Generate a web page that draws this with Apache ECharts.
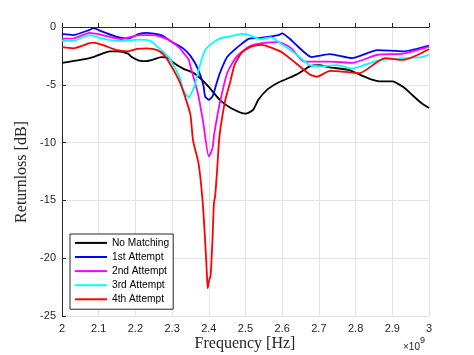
<!DOCTYPE html>
<html>
<head>
<meta charset="utf-8">
<script src="https://cdn.jsdelivr.net/npm/echarts@6/dist/echarts.min.js"></script>
<style>html,body{margin:0;padding:0;background:#fff}#c{width:474px;height:355px}</style>
</head>
<body>
<div id="c"></div>
<script>
// Frequency in GHz (axis shows x10^9 Hz), return loss in dB
const seriesNames = ['No Matching', '1st Attempt', '2nd Attempt', '3rd Attempt', '4th Attempt'];
const seriesColors = ['#000000', '#0000ff', '#ff00ff', '#00ffff', '#ff0000'];

const noMatching = [
  [2.00,-3.1],[2.05,-2.85],[2.085,-2.6],[2.11,-2.3],[2.13,-2.1],[2.15,-2.1],[2.18,-2.3],[2.19,-2.6],
  [2.21,-2.9],[2.23,-2.95],[2.25,-2.8],[2.27,-2.6],[2.29,-2.7],[2.30,-3.0],[2.33,-3.6],[2.36,-4.0],
  [2.395,-5.0],[2.43,-6.3],[2.46,-7.0],[2.50,-7.5],[2.52,-7.2],[2.535,-6.3],[2.56,-5.4],[2.59,-4.8],
  [2.64,-4.1],[2.675,-3.4],[2.70,-3.3],[2.73,-3.5],[2.78,-3.7],[2.81,-4.1],[2.84,-4.5],[2.87,-4.7],
  [2.90,-4.7],[2.93,-5.2],[2.955,-5.9],[2.98,-6.6],[3.00,-7.0]
];
const attempt1 = [
  [2.00,-0.6],[2.03,-0.7],[2.075,-0.25],[2.085,-0.1],[2.11,-0.4],[2.15,-0.85],[2.18,-1.0],[2.21,-0.6],
  [2.23,-0.5],[2.27,-0.7],[2.30,-1.3],[2.33,-1.85],[2.35,-2.5],[2.37,-3.6],[2.385,-5.0],[2.39,-6.0],
  [2.40,-6.3],[2.41,-6.0],[2.42,-5.0],[2.43,-4.0],[2.45,-2.6],[2.48,-1.7],[2.51,-1.0],[2.54,-0.95],
  [2.59,-0.7],[2.60,-0.55],[2.62,-1.0],[2.64,-1.6],[2.68,-2.6],[2.73,-2.35],[2.79,-2.7],[2.86,-2.0],
  [2.93,-2.1],[3.00,-1.6]
];
const attempt2 = [
  [2.00,-1.0],[2.03,-1.0],[2.075,-0.5],[2.11,-0.7],[2.16,-1.05],[2.21,-0.7],[2.25,-0.7],[2.29,-1.1],
  [2.32,-1.8],[2.33,-2.2],[2.345,-2.8],[2.35,-3.4],[2.37,-5.7],[2.385,-8.3],[2.40,-11.2],[2.41,-10.5],
  [2.415,-9.2],[2.43,-6.6],[2.45,-4.0],[2.475,-2.6],[2.51,-1.7],[2.545,-1.4],[2.59,-1.3],[2.625,-1.85],
  [2.66,-3.0],[2.73,-3.0],[2.79,-3.1],[2.86,-2.4],[2.93,-2.3],[3.00,-1.7]
];
const attempt3 = [
  [2.00,-1.2],[2.03,-1.2],[2.075,-0.7],[2.11,-1.0],[2.16,-1.2],[2.21,-1.1],[2.24,-1.2],[2.26,-1.7],
  [2.29,-2.6],[2.30,-3.1],[2.32,-4.3],[2.33,-5.4],[2.345,-6.1],[2.36,-5.2],[2.375,-3.4],[2.39,-2.0],
  [2.405,-1.5],[2.43,-1.0],[2.46,-0.8],[2.49,-0.6],[2.51,-0.7],[2.54,-1.05],[2.57,-0.9],[2.59,-1.3],
  [2.64,-2.4],[2.675,-3.3],[2.71,-3.4],[2.75,-3.3],[2.79,-3.6],[2.86,-2.9],[2.93,-2.7],[2.98,-2.6],
  [3.00,-2.4]
];
const attempt4 = [
  [2.00,-1.75],[2.03,-1.85],[2.075,-1.4],[2.085,-1.35],[2.11,-1.55],[2.15,-2.0],[2.18,-2.1],[2.205,-1.9],
  [2.23,-1.85],[2.26,-2.0],[2.28,-2.5],[2.30,-3.5],[2.32,-4.7],[2.335,-6.0],[2.35,-7.6],[2.357,-9.8],
  [2.372,-11.8],[2.383,-15.0],[2.39,-18.5],[2.395,-21.5],[2.397,-22.6],[2.401,-21.9],[2.405,-21.5],
  [2.41,-18.4],[2.414,-15.2],[2.417,-14.7],[2.422,-12.7],[2.428,-9.8],[2.433,-8.5],[2.445,-6.3],
  [2.458,-4.8],[2.47,-3.3],[2.49,-2.2],[2.515,-1.7],[2.545,-1.55],[2.575,-1.85],[2.60,-2.2],[2.64,-3.2],
  [2.675,-4.1],[2.695,-4.3],[2.73,-3.8],[2.78,-3.9],[2.81,-4.0],[2.86,-3.0],[2.88,-2.7],[2.93,-2.85],
  [2.97,-2.4],[3.00,-1.9]
];
const seriesData = [noMatching, attempt1, attempt2, attempt3, attempt4];

const xTicks = {min: 2, max: 3, step: 0.1};
const yTicks = {min: -25, max: 0, step: 5};

const chart = echarts.init(document.getElementById('c'), null, {renderer: 'canvas'});
const axisTextColor = '#262626';
chart.setOption({
  animation: false,
  backgroundColor: '#ffffff',
  grid: {left: 62, right: 45, top: 27, bottom: 39},
  xAxis: {
    type: 'value', min: xTicks.min, max: xTicks.max, interval: xTicks.step,
    axisLine: {lineStyle: {color: axisTextColor, width: 1}},
    axisTick: {inside: true, length: 4, lineStyle: {color: axisTextColor}},
    axisLabel: {color: axisTextColor, fontFamily: 'Liberation Sans', fontSize: 11, margin: 7,
      formatter: v => String(Math.round(v * 10) / 10)},
    splitLine: {show: true, lineStyle: {color: '#e3e3e3', width: 1}}
  },
  yAxis: {
    type: 'value', min: yTicks.min, max: yTicks.max, interval: yTicks.step,
    axisLine: {show: true, lineStyle: {color: axisTextColor, width: 1}},
    axisTick: {show: true, inside: true, length: 4, lineStyle: {color: axisTextColor}},
    axisLabel: {color: axisTextColor, fontFamily: 'Liberation Sans', fontSize: 11, margin: 6},
    splitLine: {show: true, lineStyle: {color: '#e3e3e3', width: 1}}
  },
  legend: {
    orient: 'vertical', left: 70, top: 234,
    data: seriesNames,
    icon: 'rect', itemWidth: 32, itemHeight: 2, itemGap: 2.3,
    padding: [3, 4, 4, 5],
    borderColor: '#262626', borderWidth: 1, backgroundColor: '#ffffff',
    textStyle: {color: '#000', fontFamily: 'Liberation Sans', fontSize: 10.2, lineHeight: 11.8},
    inactiveColor: '#ccc'
  },
  series: seriesNames.map((n, i) => ({
    name: n, type: 'line', data: seriesData[i], showSymbol: false, symbol: 'none',
    smooth: 0.2,
    lineStyle: {color: seriesColors[i], width: 1.8},
    itemStyle: {color: seriesColors[i]},
    z: 2 + i
  })),
  graphic: [
    {type: 'text', x: 22, y: 172, rotation: Math.PI / 2,
      style: {text: 'Returnloss [dB]', fill: '#262626', font: '16px "Liberation Serif"', textAlign: 'center', textVerticalAlign: 'middle'}},
    {type: 'text', x: 245, y: 344,
      style: {text: 'Frequency [Hz]', fill: '#262626', font: '16px "Liberation Serif"', textAlign: 'center', textVerticalAlign: 'middle'}},
    {type: 'text', x: 403, y: 336,
      style: {text: '{a|×10}{b|9}', fill: '#262626', rich: {a: {fontFamily: 'Liberation Sans', fontSize: 10, verticalAlign: 'bottom', padding: [6,0,0,0]}, b: {fontFamily: 'Liberation Sans', fontSize: 9, verticalAlign: 'top'}}}}
  ]
});
</script>
</body>
</html>
